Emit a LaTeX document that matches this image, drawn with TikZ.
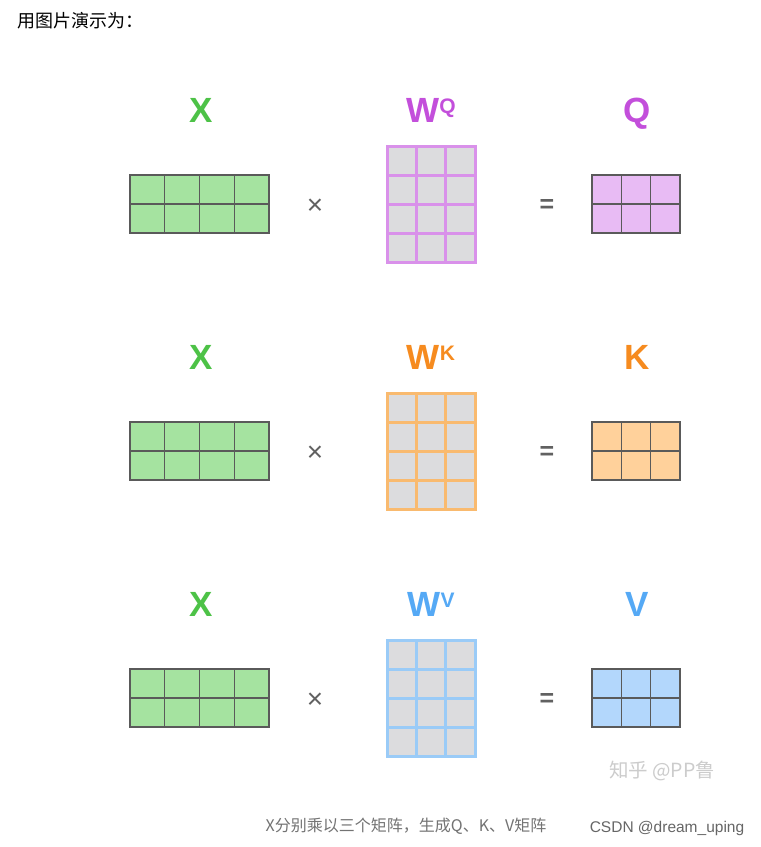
\documentclass[tikz,border=0pt]{standalone}
\usepackage{fontspec}
\setmainfont{Liberation Sans}
\newfontfamily\cjk{Noto Sans CJK SC}
\definecolor{xgreen}{HTML}{4DC247}
\definecolor{xfill}{HTML}{A5E3A0}
\definecolor{cellline}{HTML}{5A5A5A}
\definecolor{wgray}{HTML}{DCDCDE}
\definecolor{qlab}{HTML}{C34FDB}
\definecolor{qline}{HTML}{D991EA}
\definecolor{qfill}{HTML}{E8BBF4}
\definecolor{klab}{HTML}{F68B1F}
\definecolor{kline}{HTML}{F9BA6F}
\definecolor{kfill}{HTML}{FFD19B}
\definecolor{vlab}{HTML}{55A9F5}
\definecolor{vline}{HTML}{9ACBF7}
\definecolor{vfill}{HTML}{B3D7FC}
\newcommand\gridmat[7]{%
  \pgfmathsetmacro\gxa{#1}\pgfmathsetmacro\gya{#2}%
  \pgfmathsetmacro\gxb{#3}\pgfmathsetmacro\gyb{#4}%
  \fill[#7] (\gxa,\gya) rectangle (\gxb,\gyb);
  \pgfmathsetmacro\gdx{(\gxb-\gxa)/#5}%
  \pgfmathsetmacro\gdy{(\gyb-\gya)/#6}%
  \foreach \k in {0,...,#5} {\draw[#7] ({\gxa+\k*\gdx},\gya) -- ({\gxa+\k*\gdx},\gyb);}
  \foreach \k in {0,...,#6} {\draw[#7] (\gxa,{\gya+\k*\gdy}) -- (\gxb,{\gya+\k*\gdy});}
}
\begin{document}
\begin{tikzpicture}[x=1pt,y=-1pt,
  lab/.style={font=\fontsize{35}{35}\selectfont\bfseries, anchor=base, inner sep=0pt},
  op/.style={text=black!62, inner sep=0pt},
  xmat/.style={fill=xfill, draw=cellline, line width=1.1pt, line cap=rect},
  wmat/.style={fill=wgray, draw=#1, line width=3pt, line cap=rect},
  rmat/.style={fill=#1, draw=cellline, line width=1.1pt, line cap=rect}]
\useasboundingbox[fill=white] (0,0) rectangle (761,847);
\node[anchor=west, inner sep=0pt, font=\cjk\fontsize{18}{18}\selectfont] (title) at (17,21) {用图片演示为：};
% rows
\foreach \r/\L/\lc/\wl/\rf/\ix in {0/Q/qlab/qline/qfill/a, 247/K/klab/kline/kfill/b, 494/V/vlab/vline/vfill/c} {
  \node[lab, text=xgreen] (x\ix) at (201,122+\r) {X};
  \node[lab, text=\lc] (w\ix) at (431,122+\r) {W\raisebox{9pt}{\fontsize{21}{21}\selectfont\L}};
  \node[lab, text=\lc] (r\ix) at (637,122+\r) {\L};
  \node[op, font=\fontsize{28}{28}\selectfont] (t\ix) at (315,207+\r) {×};
  \node[op, font=\fontsize{25}{25}\selectfont\bfseries] (e\ix) at (547,206+\r) {=};
  \gridmat{130}{175+\r}{269}{233+\r}{4}{2}{xmat}
  \gridmat{387}{146+\r}{475}{262+\r}{3}{4}{wmat=\wl}
  \gridmat{592}{175+\r}{680}{233+\r}{3}{2}{rmat=\rf}
}
\node[inner sep=0pt, text=black!20, font=\cjk\fontsize{19.5}{19.5}\selectfont] (wm) at (662,771) {知乎 @PP鲁};
\node[inner sep=0pt, text=black!55, font=\cjk\fontsize{16}{16}\selectfont] (cap) at (406,826) {X分别乘以三个矩阵，生成Q、K、V矩阵};
\node[inner sep=0pt, text=black!60, font=\fontsize{15.5}{15.5}\selectfont] (csdn) at (667,828) {CSDN @dream\_uping};
\end{tikzpicture}
\end{document}
